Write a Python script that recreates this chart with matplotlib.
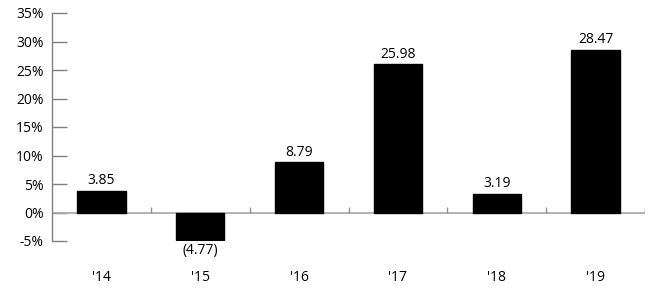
import matplotlib
matplotlib.use("Agg")
import matplotlib.pyplot as plt
import numpy as np

years = ["'14", "'15", "'16", "'17", "'18", "'19"]
returns = [3.85, -4.77, 8.79, 25.98, 3.19, 28.47]
yticks = [-5, 0, 5, 10, 15, 20, 25, 30, 35]

plt.rcParams['font.family'] = ['Open Sans', 'DejaVu Sans']
FS = 10

fig = plt.figure(figsize=(6.62, 2.93), dpi=100)
ax = fig.add_axes([52/662, (293-241)/293, (645-52)/662, (241-13)/293])

x = np.arange(len(years))
ax.bar(x, returns, width=0.49, color='black', edgecolor='black', zorder=3)

ax.set_xlim(-0.5, len(years) - 0.5)
ax.set_ylim(-5, 35)

# zero line and category boundary ticks
ax.axhline(0, color='#a6a6a6', lw=1.2, zorder=2)
bounds = np.arange(len(years)) + 0.5
ax.vlines(bounds, 0, 1.05, color='#909090', lw=1.0, zorder=2)

for xi, v in zip(x, returns):
    if v >= 0:
        ax.text(xi, v + 0.5, f"{v:.2f}", ha='center', va='bottom', fontsize=FS)
    else:
        ax.text(xi, v - 0.6, f"({abs(v):.2f})", ha='center', va='top', fontsize=FS)

ax.set_yticks(yticks)
ax.set_yticklabels([f"{t}%" for t in yticks], fontsize=FS)
ax.tick_params(axis='y', direction='in', length=11, width=1, color='#808080', pad=6)

ax.set_xticks(x)
ax.set_xticklabels(years, fontsize=FS)
ax.tick_params(axis='x', length=0, pad=21)

for s in ['top', 'right', 'bottom']:
    ax.spines[s].set_visible(False)
ax.spines['left'].set_color('#808080')
ax.spines['left'].set_linewidth(1)

fig.savefig("out.png", dpi=100)
